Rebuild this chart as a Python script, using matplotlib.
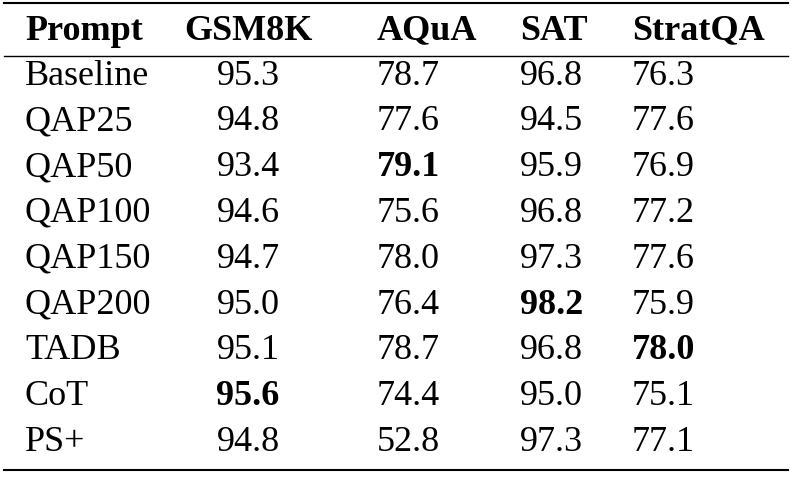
import matplotlib
matplotlib.use("Agg")
import matplotlib.pyplot as plt

headers = ["Prompt", "GSM8K", "AQuA", "SAT", "StratQA"]
prompts = ["Baseline", "QAP25", "QAP50", "QAP100", "QAP150", "QAP200", "TADB", "CoT", "PS+"]
gsm8k = [95.3, 94.8, 93.4, 94.6, 94.7, 95.0, 95.1, 95.6, 94.8]
aqua = [78.7, 77.6, 79.1, 75.6, 78.0, 76.4, 78.7, 74.4, 52.8]
sat = [96.8, 94.5, 95.9, 96.8, 97.3, 98.2, 96.8, 95.0, 97.3]
stratqa = [76.3, 77.6, 76.9, 77.2, 77.6, 75.9, 78.0, 75.1, 77.1]
cols = [gsm8k, aqua, sat, stratqa]

W, H = 792, 478
fig = plt.figure(figsize=(W/100, H/100), dpi=100)
ax = fig.add_axes([0, 0, 1, 1])
ax.set_xlim(0, W); ax.set_ylim(H, 0); ax.axis("off")
plt.rcParams['font.family'] = ['Liberation Serif']
fs = 26

xs = [25, 248, 377, 520, 632]
aligns = ["left", "center", "left", "left", "left"]

ax.plot([4, 788], [3, 3], color="black", lw=1.5)
ax.plot([4, 788], [56, 56], color="black", lw=1.0)
ax.plot([4, 788], [470, 470], color="black", lw=1.5)

for x, a, h in zip(xs, aligns, headers):
    ax.text(x, 31, h, ha=a, va="center", fontsize=fs, fontweight="bold")

y0, dy = 76, 45.8
for i, p in enumerate(prompts):
    y = y0 + i * dy
    ax.text(xs[0], y, p, ha="left", va="center", fontsize=fs)
    for j, c in enumerate(cols):
        best = max(c)
        ax.text(xs[j+1], y, f"{c[i]:.1f}", ha=aligns[j+1], va="center", fontsize=fs,
                fontweight="bold" if c[i] == best else "normal")

fig.savefig("out.png", dpi=100)
